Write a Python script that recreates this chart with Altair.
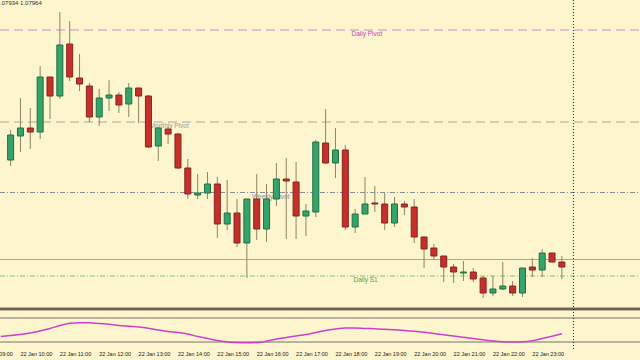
import altair as alt
import pandas as pd

# ---------------- data ----------------
# 15-minute EURUSD candles, 22 Jan 09:45 ... 23:45 (index 0 ... 56)
opens = [1.08132, 1.08180, 1.08196, 1.08188, 1.08298, 1.08260, 1.08364, 1.08296, 1.08280, 1.08218,
         1.08256, 1.08262, 1.08244, 1.08276, 1.08260, 1.08160, 1.08194, 1.08184, 1.08116, 1.08062,
         1.08066, 1.08084, 1.08004, 1.08026, 1.07966, 1.08054, 1.07994, 1.08054, 1.08094, 1.08088,
         1.08020, 1.08028, 1.08166, 1.08126, 1.08152, 1.07998, 1.08024, 1.08046, 1.08044, 1.08006,
         1.08044, 1.08038, 1.07978, 1.07956, 1.07940, 1.07918, 1.07906, 1.07908, 1.07896, 1.07866,
         1.07874, 1.07880, 1.07866, 1.07918, 1.07912, 1.07946, 1.07928]
highs = [1.08192, 1.08256, 1.08236, 1.08320, 1.08298, 1.08428, 1.08410, 1.08344, 1.08286, 1.08274,
         1.08292, 1.08268, 1.08286, 1.08276, 1.08262, 1.08198, 1.08198, 1.08186, 1.08134, 1.08104,
         1.08108, 1.08098, 1.08092, 1.08054, 1.08054, 1.08104, 1.08084, 1.08126, 1.08136, 1.08128,
         1.08044, 1.08172, 1.08234, 1.08196, 1.08162, 1.08034, 1.08098, 1.08080, 1.08066, 1.08058,
         1.08050, 1.08054, 1.07980, 1.07964, 1.07940, 1.07924, 1.07930, 1.07916, 1.07900, 1.07900,
         1.07928, 1.07890, 1.07916, 1.07936, 1.07954, 1.07946, 1.07940]
lows = [1.08120, 1.08148, 1.08154, 1.08174, 1.08214, 1.08254, 1.08290, 1.08270, 1.08208, 1.08200,
        1.08230, 1.08226, 1.08218, 1.08206, 1.08156, 1.08130, 1.08164, 1.08114, 1.08054, 1.08054,
        1.08054, 1.07976, 1.07992, 1.07958, 1.07896, 1.07972, 1.07968, 1.08040, 1.07974, 1.07974,
        1.07980, 1.08018, 1.08124, 1.08096, 1.07992, 1.07986, 1.08024, 1.08028, 1.07992, 1.07998,
        1.08022, 1.07966, 1.07916, 1.07932, 1.07888, 1.07886, 1.07890, 1.07888, 1.07856, 1.07860,
        1.07872, 1.07860, 1.07858, 1.07898, 1.07898, 1.07928, 1.07894]
closes = [1.08182, 1.08196, 1.08188, 1.08298, 1.08260, 1.08362, 1.08298, 1.08284, 1.08218, 1.08256,
          1.08262, 1.08242, 1.08276, 1.08260, 1.08158, 1.08196, 1.08184, 1.08116, 1.08064, 1.08066,
          1.08084, 1.08004, 1.08026, 1.07966, 1.08054, 1.07994, 1.08054, 1.08094, 1.08090, 1.08020,
          1.08030, 1.08168, 1.08126, 1.08152, 1.07998, 1.08024, 1.08044, 1.08044, 1.08006, 1.08044,
          1.08038, 1.07978, 1.07954, 1.07940, 1.07918, 1.07908, 1.07908, 1.07894, 1.07866, 1.07874,
          1.07880, 1.07866, 1.07916, 1.07912, 1.07946, 1.07928, 1.07918]

# oscillator in the lower window (bar index -1 ... 56)
osc_values = [34.0, 36.3, 38.8, 42.5, 47.5, 53.8, 61.3, 66.8, 68.3, 68.0, 66.0,
              64.3, 61.3, 59.3, 57.5, 54.5, 50.0, 46.3, 43.8, 40.0, 33.8,
              28.8, 23.8, 20.5, 18.5, 18.3, 18.8, 22.0, 27.5, 31.3, 35.0,
              38.8, 43.8, 48.8, 52.5, 55.0, 55.3, 54.0, 53.0, 52.0, 50.5,
              48.8, 46.8, 44.3, 41.3, 38.0, 35.0, 31.8, 28.5, 25.5, 22.5,
              20.5, 20.0, 20.5, 23.0, 28.5, 34.3, 40.5]
osc_levels = [80, 20]

# pivot levels
pivot_names = ["Daily Pivot", "Monthly Pivot", "Weekly Pivot", "Daily S1"]
pivot_prices = [1.08392, 1.08208, 1.08067, 1.07900]
pivot_label_at = [34.63, 14.13, 24.53, 34.83]   # bar index where the label is anchored
price_line = [1.07933]
day_separator_at = [57.18]

# time axis labels (bar index of each hour)
tick_at = [-3, 1, 5, 9, 13, 17, 21, 25, 29, 33, 37, 41, 45, 49, 53]
tick_labels = ["22 Jan 09:00", "22 Jan 10:00", "22 Jan 11:00", "22 Jan 12:00", "22 Jan 13:00",
               "22 Jan 14:00", "22 Jan 15:00", "22 Jan 16:00", "22 Jan 17:00", "22 Jan 18:00",
               "22 Jan 19:00", "22 Jan 20:00", "22 Jan 21:00", "22 Jan 22:00", "22 Jan 23:00"]
header_text = "1.07934 1.07964"

# ---------------- styling ----------------
W, H = 640, 360
BG = "#FCF5CD"
FONT = "Liberation Sans"
XDOM = [-0.57, 63.43]
PDOM = [1.07732, 1.08452]
IDOM = [-25, 875]
UP, DOWN = "#35a46b", "#c5302b"
UP_EDGE, DOWN_EDGE = "#1f6f45", "#862420"
WICK = "#8e8562"
pivot_style = {
    "Daily Pivot": dict(line="#c690c8", text="#c444c4", dash=[9, 5]),
    "Monthly Pivot": dict(line="#aaa69c", text="#9a9a9a", dash=[9, 5]),
    "Weekly Pivot": dict(line="#8a8e98", text="#7f90b0", dash=[5, 2, 1, 2]),
    "Daily S1": dict(line="#7cc47c", text="#44aa44", dash=[5, 2, 1, 2]),
}


def xenc(field):
    return alt.X(f"{field}:Q", scale=alt.Scale(domain=XDOM, nice=False, zero=False), axis=None)


def penc(field):
    return alt.Y(f"{field}:Q", scale=alt.Scale(domain=PDOM, nice=False, zero=False), axis=None)


def ienc(field):
    return alt.Y(f"{field}:Q", scale=alt.Scale(domain=IDOM, nice=False, zero=False), axis=None)


candles = pd.DataFrame({
    "idx": list(range(len(opens))),
    "open": opens, "high": highs, "low": lows, "close": closes,
})
candles["dir"] = ["up" if c > o else "down" for o, c in zip(opens, closes)]

pivots = pd.DataFrame({"name": pivot_names, "price": pivot_prices, "at": pivot_label_at})
osc = pd.DataFrame({"idx": list(range(-1, len(osc_values) - 1)), "v": osc_values})
levels = pd.DataFrame({"v": osc_levels})
ticks = pd.DataFrame({"at": tick_at, "label": tick_labels})
sep = pd.DataFrame({"at": day_separator_at})
pline = pd.DataFrame({"price": price_line})

layers = []

# pivot lines + labels
for name in pivot_names:
    st = pivot_style[name]
    sub = pivots[pivots["name"] == name]
    layers.append(
        alt.Chart(sub).mark_rule(color=st["line"], strokeDash=st["dash"], strokeWidth=1)
        .encode(y=penc("price"), x=alt.value(0), x2=alt.value(W))
    )
    layers.append(
        alt.Chart(sub).mark_text(align="left", baseline="top", dy=1, fontSize=6.5,
                                 font=FONT, color=st["text"])
        .encode(x=xenc("at"), y=penc("price"), text="name:N")
    )

# current price line
layers.append(
    alt.Chart(pline).mark_rule(color="#d89c58", strokeWidth=1)
    .encode(y=penc("price"), x=alt.value(0), x2=alt.value(W))
)

# wicks
layers.append(
    alt.Chart(candles).mark_rule(color=WICK, strokeWidth=1)
    .encode(x=xenc("idx"), y=penc("low"), y2="high")
)
# bodies
layers.append(
    alt.Chart(candles).mark_bar(size=6, strokeWidth=1)
    .encode(
        x=xenc("idx"), y=penc("open"), y2="close",
        color=alt.Color("dir:N", scale=alt.Scale(domain=["up", "down"], range=[UP, DOWN]), legend=None),
        stroke=alt.Stroke("dir:N", scale=alt.Scale(domain=["up", "down"], range=[UP_EDGE, DOWN_EDGE]), legend=None),
    )
)

# window separator
layers.append(
    alt.Chart(levels).mark_rule(color="#66664f", strokeWidth=2.5)
    .encode(y=alt.value(309), x=alt.value(0), x2=alt.value(W))
)
# oscillator levels
layers.append(
    alt.Chart(levels).mark_rule(color="#75746a", strokeWidth=1)
    .encode(y=ienc("v"), x=alt.value(0), x2=alt.value(W))
)
# oscillator line
layers.append(
    alt.Chart(osc).mark_line(color="#cf3fcf", strokeWidth=1.5, interpolate="monotone")
    .encode(x=xenc("idx"), y=ienc("v"))
)

# day separator
layers.append(
    alt.Chart(sep).mark_rule(color="#2a2a2a", strokeDash=[1, 2], strokeWidth=1)
    .encode(x=xenc("at"), y=alt.value(0), y2=alt.value(349))
)

# time labels
layers.append(
    alt.Chart(ticks).mark_text(align="left", baseline="middle", fontSize=5.5, font=FONT, color="#222222")
    .encode(x=xenc("at"), y=alt.value(354), text="label:N")
)

# header text
layers.append(
    alt.Chart(pd.DataFrame({"t": [header_text]})).mark_text(
        align="left", baseline="alphabetic", fontSize=6, font=FONT, color="#333333")
    .encode(x=alt.value(-3.3), y=alt.value(4.5), text="t:N")
)

chart = (
    alt.layer(*layers)
    .resolve_scale(y="independent")
    .properties(width=W, height=H, background=BG, padding=0,
                autosize=alt.AutoSizeParams(type="none"))
    .configure_view(stroke=None, fill=BG)
)

chart.save("out.html", embed_options={"renderer": "svg", "actions": False})
